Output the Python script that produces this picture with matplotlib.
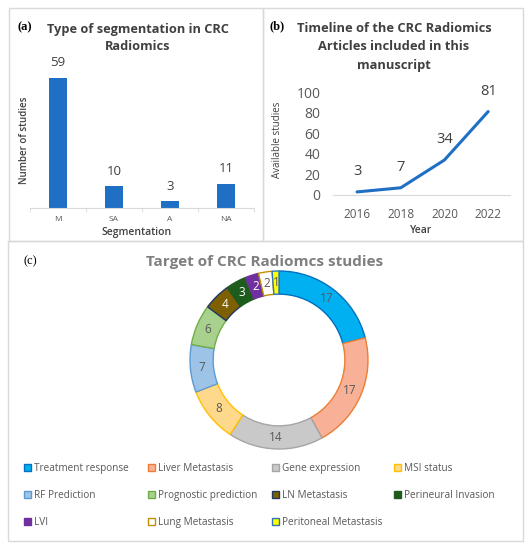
import matplotlib
matplotlib.use("Agg")
import matplotlib.pyplot as plt
from matplotlib.patches import Rectangle
import numpy as np

# ---------------- data ----------------
seg_categories = ["M", "SA", "A", "NA"]
seg_values = [59, 10, 3, 11]

years = [2016, 2018, 2020, 2022]
year_counts = [3, 7, 34, 81]

target_labels = ["Treatment response", "Liver Metastasis", "Gene expression", "MSI status",
                 "RF Prediction", "Prognostic prediction", "LN Metastasis", "Perineural Invasion",
                 "LVI", "Lung Metastasis", "Peritoneal Metastasis"]
target_values = [17, 17, 14, 8, 7, 6, 4, 3, 2, 2, 1]
target_fill = ["#00B0F0", "#F8B196", "#C9C9C9", "#FFD98B", "#9DC3E6", "#A9D18E",
               "#7F6000", "#1E5C1E", "#7030A0", "#FFFFFF", "#FFFF00"]
target_edge = ["#0070C0", "#ED7D31", "#A5A5A5", "#FFC000", "#5B9BD5", "#70AD47",
               "#1F3864", "#1E5C1E", "#7030A0", "#BF8F00", "#2E75B6"]
target_text = ["#595959"] * 6 + ["#FFFFFF", "#FFFFFF", "#FFFFFF", "#595959", "#595959"]

W, H = 531, 550
FONT = ["Open Sans", "DejaVu Sans"]
SERIF = ["Liberation Serif", "DejaVu Serif"]
plt.rcParams["font.family"] = FONT

fig = plt.figure(figsize=(W / 100, H / 100), dpi=100)


def rect(x0, y0, x1, y1):
    return [x0 / W, 1 - y1 / H, (x1 - x0) / W, (y1 - y0) / H]


def fx(x):
    return x / W


def fy(y):
    return 1 - y / H


# panel borders
for (x0, y0, x1, y1) in [(9, 8, 263, 241), (263, 8, 523, 241), (8, 241, 523, 541)]:
    fig.patches.append(Rectangle((fx(x0), fy(y1)), (x1 - x0) / W, (y1 - y0) / H,
                                 transform=fig.transFigure, fill=False,
                                 edgecolor="#D9D9D9", lw=1.0))

# ---------------- panel (a) ----------------
axa = fig.add_axes(rect(30, 60, 254, 208))
xpos = list(range(len(seg_categories)))
bars = axa.bar(xpos, seg_values, width=0.31, color="#1F6FC5")
axa.set_xlim(-0.5, len(seg_categories) - 0.5)
axa.set_ylim(0, 67)
for s in ["top", "right", "left"]:
    axa.spines[s].set_visible(False)
axa.spines["bottom"].set_color("#D9D9D9")
axa.set_yticks([])
axa.set_xticks(xpos)
axa.set_xticklabels(seg_categories, fontsize=6, color="#595959")
axa.tick_params(axis="x", which="major", length=0, pad=6)
axa.set_xticks([i - 0.5 for i in range(len(seg_categories) + 1)], minor=True)
axa.tick_params(axis="x", which="minor", length=3, color="#D9D9D9")
axa.patch.set_alpha(0)
for b, v in zip(bars, seg_values):
    axa.annotate(str(v), (b.get_x() + b.get_width() / 2, v), xytext=(0, 6),
                 textcoords="offset points", ha="center", va="bottom",
                 fontsize=9.5, color="#404040")
fig.text(fx(137), fy(232), "Segmentation", ha="center", va="center",
         fontsize=7.5, fontweight="semibold", color="#404040")
fig.text(fx(25), fy(140), "Number of studies", ha="center", va="center",
         rotation=90, fontsize=7, fontweight="semibold", color="#404040")
fig.text(fx(138), fy(29), "Type of segmentation in CRC", ha="center", va="center",
         fontsize=9.2, fontweight="bold", color="#404040")
fig.text(fx(138), fy(47), "Radiomics", ha="center", va="center",
         fontsize=9.2, fontweight="bold", color="#404040")
fig.text(fx(25), fy(27), "(a)", ha="center", va="center", fontsize=9,
         fontweight="bold", family=SERIF, color="#000000")

# ---------------- panel (b) ----------------
axb = fig.add_axes(rect(333, 92, 510, 195))
axb.plot(years, year_counts, color="#1F6FC5", lw=2.2, solid_capstyle="round")
axb.set_xlim(2014.9, 2023)
axb.set_ylim(0, 100)
for s in ["top", "right", "left"]:
    axb.spines[s].set_visible(False)
axb.spines["bottom"].set_color("#D9D9D9")
axb.set_yticks([0, 20, 40, 60, 80, 100])
axb.set_xticks(years)
axb.tick_params(axis="y", length=0, labelsize=10, labelcolor="#595959", pad=9)
axb.tick_params(axis="x", length=0, labelsize=8.5, labelcolor="#595959", pad=9)
axb.patch.set_alpha(0)
for x, v in zip(years, year_counts):
    axb.annotate(str(v), (x, v), xytext=(0, 9), textcoords="offset points",
                 ha="center", va="bottom", fontsize=10.5, color="#404040")
fig.text(fx(421), fy(231), "Year", ha="center", va="center",
         fontsize=7.5, fontweight="semibold", color="#404040")
fig.text(fx(278), fy(140), "Available studies", ha="center", va="center",
         rotation=90, fontsize=7, color="#404040")
for i, line in enumerate(["Timeline of the CRC Radiomics", "Articles included in this",
                          "manuscript"]):
    fig.text(fx(394), fy(28 + 19 * i), line, ha="center", va="center",
             fontsize=9.3, fontweight="bold", color="#404040")
fig.text(fx(277), fy(26), "(b)", ha="center", va="center", fontsize=9,
         fontweight="bold", family=SERIF, color="#000000")

# ---------------- panel (c) ----------------
R = 89
axc = fig.add_axes(rect(279 - R, 360 - R, 279 + R, 360 + R))
wedges, _ = axc.pie(target_values, colors=target_fill, startangle=90,
                    counterclock=False, radius=1,
                    wedgeprops=dict(width=0.26, linewidth=1.0))
for w, ec in zip(wedges, target_edge):
    w.set_edgecolor(ec)
axc.set_xlim(-1, 1)
axc.set_ylim(-1, 1)
axc.set_aspect("equal")
axc.axis("off")
total = sum(target_values)
cum = 0
for v, tc in zip(target_values, target_text):
    mid = 90 - 360 * (cum + v / 2) / total
    cum += v
    r = 0.87
    axc.text(r * np.cos(np.radians(mid)), r * np.sin(np.radians(mid)), str(v),
             ha="center", va="center", fontsize=8.5, color=tc)

fig.text(fx(265), fy(262), "Target of CRC Radiomcs studies", ha="center", va="center",
         fontsize=11, fontweight="bold", color="#7F7F7F")
fig.text(fx(30), fy(261), "(c)", ha="center", va="center", fontsize=9,
         family=SERIF, color="#000000")

col_x = [24, 148, 272, 394]
for j, cx in enumerate(col_x):
    hs = wedges[j::4]
    ls = target_labels[j::4]
    fig.legend(hs, ls, loc="upper left", bbox_to_anchor=(fx(cx), fy(463)),
               frameon=False, fontsize=7.2, labelcolor="#595959",
               handlelength=0.7, handleheight=0.7, handletextpad=0.3,
               labelspacing=1.6, borderpad=0, borderaxespad=0)

fig.savefig("out.png", dpi=100, facecolor="white")
